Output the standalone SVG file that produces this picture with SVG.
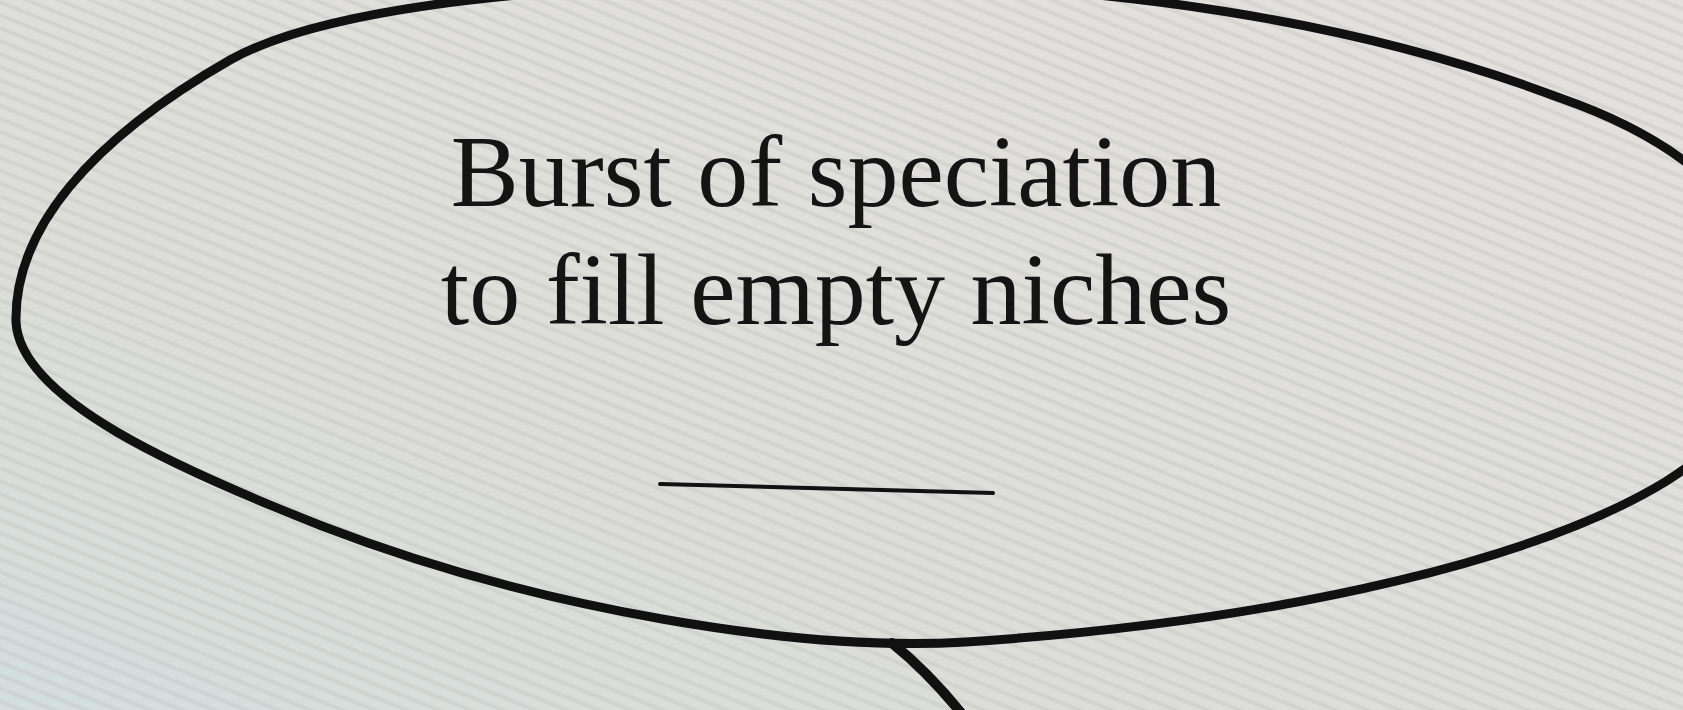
<svg xmlns="http://www.w3.org/2000/svg" width="1683" height="710" viewBox="0 0 1683 710">
  <style>
    .outline { fill: none; stroke: #111; stroke-linecap: round; stroke-linejoin: round; }
    .label { font-family: "Liberation Serif", "Times New Roman", serif; font-size: 102px; fill: #141414; text-anchor: middle; }
  </style>
  <defs>
    <linearGradient id="bg" x1="0" y1="1" x2="1" y2="0">
      <stop offset="0" stop-color="#d3dedd"/>
      <stop offset="0.3" stop-color="#dcddd9"/>
      <stop offset="1" stop-color="#e3e1dd"/>
    </linearGradient>
    <pattern id="stripes" width="12" height="12" patternUnits="userSpaceOnUse" patternTransform="rotate(22)">
      <rect width="12" height="4" fill="#c6c8c4" opacity="0.45"/>
    </pattern>
  </defs>
  <rect width="1683" height="710" fill="url(#bg)"/>
  <rect width="1683" height="710" fill="url(#stripes)"/>

  <g id="bubble">
    <path class="outline" stroke-width="9" d="M 16,322 C 14,230 90,140 230,60 C 330,4 570,-18 830,-18 C 1110,-18 1360,22 1560,98 C 1710,150 1785,240 1772,330 C 1762,400 1725,445 1665,482 C 1545,555 1300,620 966,642 C 800,652 540,610 322,526 C 180,470 20,400 16,322 Z"/>
    <text class="label" x="836" y="206">Burst of speciation</text>
    <text class="label" x="836" y="324">to fill empty niches</text>
    <line class="outline" stroke-width="4" x1="660" y1="484" x2="993" y2="493"/>
  </g>

  <g id="connectors">
    <path class="outline" stroke-width="10" d="M 892,643 Q 928,672 962,714"/>
  </g>
</svg>
